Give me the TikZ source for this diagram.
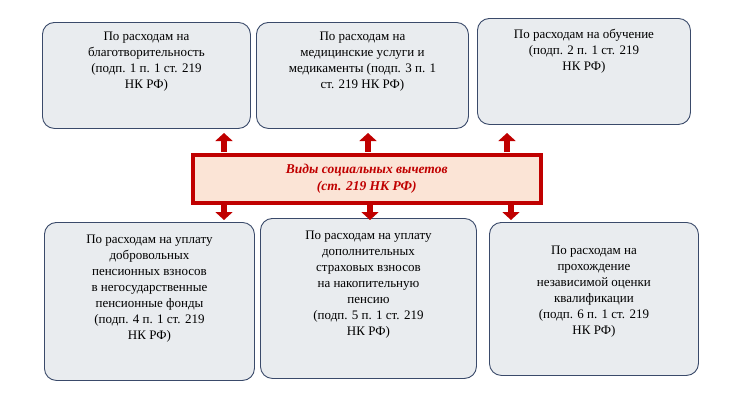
\documentclass[tikz,border=0pt]{standalone}
\usepackage{fontspec}
\setmainfont{Liberation Serif}
\usetikzlibrary{arrows.meta}
\definecolor{bordc}{HTML}{3A4A6A}
\definecolor{boxf}{HTML}{E9ECEF}
\definecolor{redc}{HTML}{C00000}
\definecolor{cfill}{HTML}{FBE4D6}
\begin{document}
\begin{tikzpicture}[x=1pt,y=-1pt,
  box/.style={draw=bordc,line width=0.9pt,fill=boxf,rounded corners=12pt,anchor=north west,inner sep=3pt},
  txt/.style={align=center,font=\fontsize{13}{16}\selectfont,anchor=north},
  barrow/.style={draw=redc,line width=6pt,-{Triangle[width=17pt,length=8pt]}}]
\useasboundingbox (0,0) rectangle (739,407);
\fill[white] (0,0) rectangle (739,407);
\node[box,minimum width=208pt,minimum height=106pt] (t1) at (42,22) {};
\node[txt,yshift=-6pt] (t1t) at (t1.north) {По расходам на\\благотворительность\\(подп. 1 п. 1 ст. 219\\НК РФ)};
\node[box,minimum width=212pt,minimum height=106pt] (t2) at (256,22) {};
\node[txt,yshift=-6pt] (t2t) at (t2.north) {По расходам на\\медицинские услуги и\\медикаменты (подп. 3 п. 1\\ст. 219 НК РФ)};
\node[box,minimum width=213pt,minimum height=106pt] (t3) at (477,18) {};
\node[txt,yshift=-8pt] (t3t) at (t3.north) {По расходам на обучение\\(подп. 2 п. 1 ст. 219\\НК РФ)};
\node[box,minimum width=210pt,minimum height=158pt] (b1) at (44,222) {};
\node[txt,yshift=-9pt] (b1t) at (b1.north) {По расходам на уплату\\добровольных\\пенсионных взносов\\в негосударственные\\пенсионные фонды\\(подп. 4 п. 1 ст. 219\\НК РФ)};
\node[box,minimum width=216pt,minimum height=160pt] (b2) at (260,218) {};
\node[txt,yshift=-9pt] (b2t) at (b2.north) {По расходам на уплату\\дополнительных\\страховых взносов\\на накопительную\\пенсию\\(подп. 5 п. 1 ст. 219\\НК РФ)};
\node[box,minimum width=209pt,minimum height=153pt] (b3) at (489,222) {};
\node[txt,yshift=-20pt] (b3t) at (b3.north) {По расходам на\\прохождение\\независимой оценки\\квалификации\\(подп. 6 п. 1 ст. 219\\НК РФ)};
\node[draw=redc,line width=3.5pt,fill=cfill,minimum width=348pt,minimum height=48pt,anchor=north west,align=center,text=redc,font=\fontsize{13.5}{16.5}\selectfont\bfseries\itshape] (c) at (191,153) {Виды социальных вычетов\\(ст. 219 НК РФ)};
\foreach \x in {224,368,507} \draw[barrow] (\x,152) -- (\x,133);
\foreach \x in {224,370,511} \draw[barrow] (\x,202) -- (\x,220);
\end{tikzpicture}
\end{document}
